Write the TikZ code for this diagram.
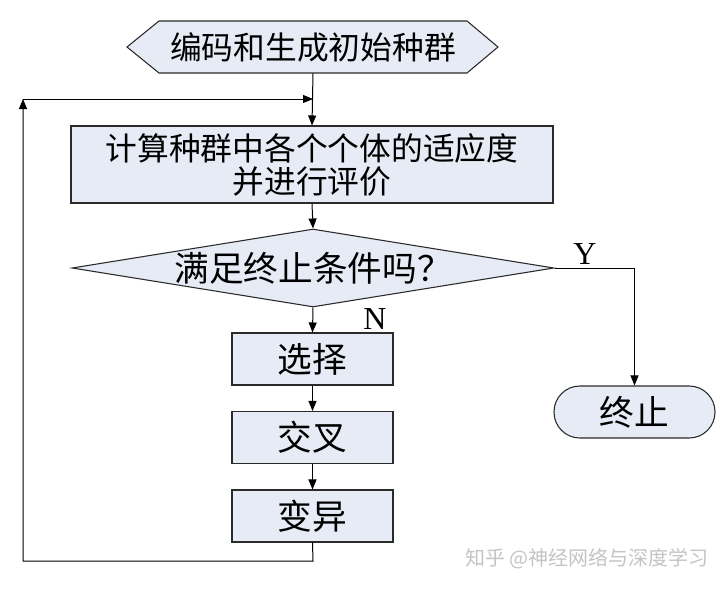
\documentclass[tikz,border=0pt]{standalone}
\usepackage{fontspec}
\setmainfont{Liberation Serif}
\newfontfamily\cjk{Noto Sans CJK SC}
\usetikzlibrary{shapes.geometric,arrows.meta}
\definecolor{boxfill}{HTML}{E6EBF5}
\definecolor{boxline}{HTML}{2A2A2A}
\definecolor{wmark}{HTML}{C4C4C4}
\begin{document}
\begin{tikzpicture}[x=0.75pt,y=-0.75pt,
  boxbase/.style={draw=boxline,fill=boxfill,line width=0.8pt,inner sep=0pt,align=center},
  bigtext/.style={font=\cjk\fontsize{23.8}{24.8}\selectfont},
  smalltext/.style={font=\cjk\fontsize{26}{28}\selectfont},
  procbox/.style={boxbase,rectangle,minimum width=120.75pt,minimum height=39pt,smalltext},
  conn/.style={draw=black,line width=0.75pt},
  arr/.style={conn,-{Triangle[length=7.5pt,width=6pt]}},
  yn/.style={font=\fontsize{24}{26}\selectfont,inner sep=0pt}
]
\useasboundingbox (0,0) rectangle (725,589);
\fill[white] (0,0) rectangle (725,589);

% hexagon start
\fill[boxfill] (127,47) -- (159,21) -- (467,21) -- (498,47) -- (467,73) -- (159,73) -- cycle;
\draw[boxline,line width=0.8pt] (127,47) -- (159,21) -- (467,21) -- (498,47) -- (467,73) -- (159,73) -- cycle;
\node[bigtext,inner sep=0pt,minimum width=278.25pt,minimum height=39pt] (init) at (313,47) {编码和生成初始种群};

\node[boxbase,bigtext,minimum width=361.5pt,minimum height=57.75pt] (eval) at (312,164.5)
  {计算种群中各个个体的适应度\\并进行评价};

\node[boxbase,diamond,aspect=6.18,minimum width=361.5pt,minimum height=58.5pt,smalltext] (dia) at (313,268)
  {满足终止条件吗？};

\node[procbox] (sel) at (312.5,359) {选择};
\node[procbox] (cross) at (312.5,437.5) {交叉};
\node[procbox] (mut) at (312.5,516) {变异};

\node[boxbase,rectangle,rounded corners=19.4pt,minimum width=120.75pt,minimum height=39pt,smalltext] (term) at (634.5,412) {终止};

\node[yn] (ylab) at (585,254) {Y};
\node[yn] (nlab) at (375,319) {N};

% connectors
\draw[arr] (init.south) -- (eval.north);
\draw[arr] (eval.south) -- (dia.north);
\draw[arr] (dia.south) -- (sel.north);
\draw[arr] (sel.south) -- (cross.north);
\draw[arr] (cross.south) -- (mut.north);

\coordinate (ycorner) at (634.5,268);
\draw[arr] (dia.east) -- (ycorner) -- (term.north);

\coordinate (lb) at (313,561);
\coordinate (lbl) at (23,561);
\coordinate (ltl) at (23,99);
\coordinate (jn) at (313,99);
\draw[arr] (mut.south) -- (lb) -- (lbl) -- (ltl);
\draw[arr] (ltl) -- (jn);

% watermark
\node[font=\cjk\fontsize{15}{16}\selectfont,text=wmark,anchor=west,inner sep=0pt] (wm) at (465,559) {知乎 @神经网络与深度学习};
\end{tikzpicture}
\end{document}
